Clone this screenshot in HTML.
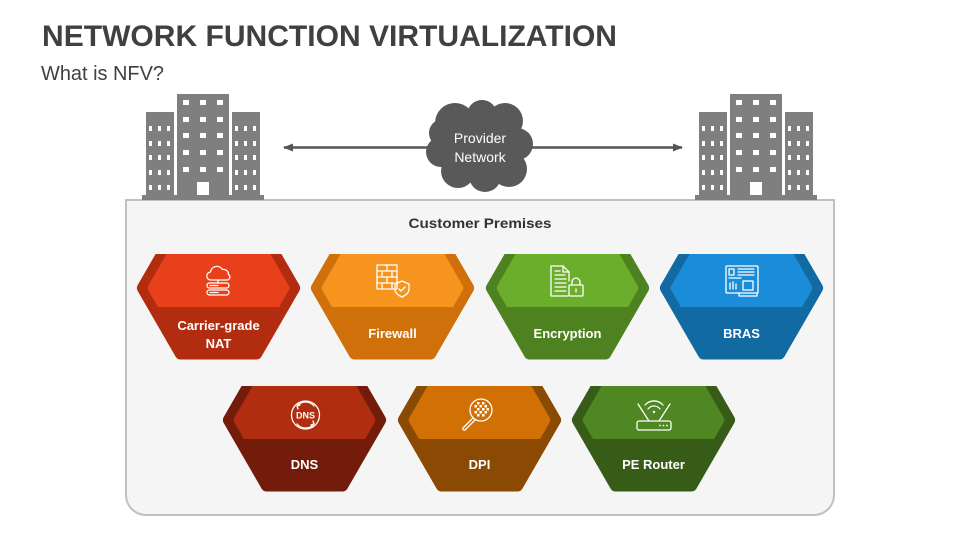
<!DOCTYPE html>
<html><head><meta charset="utf-8"><style>
html,body{margin:0;padding:0;background:#fff;}
svg{display:block;}
text{font-family:"Liberation Sans",Arial,sans-serif;}
</style></head><body>
<svg width="960" height="540" viewBox="0 0 960 540" xmlns="http://www.w3.org/2000/svg">
<defs>
<clipPath id="co" clipPathUnits="userSpaceOnUse"><rect x="-10" y="0" width="190" height="120"/></clipPath>
<clipPath id="ci" clipPathUnits="userSpaceOnUse"><rect x="-10" y="0" width="190" height="53"/></clipPath>
<marker id="ah" markerWidth="10" markerHeight="8" refX="9" refY="4" orient="auto" markerUnits="userSpaceOnUse"><path d="M0,0 L10,4 L0,8 Z" fill="#555"/></marker>
</defs>
<rect width="960" height="540" fill="#fff"/>
<text x="42" y="46" font-size="30" font-weight="bold" fill="#404040" textLength="575" lengthAdjust="spacingAndGlyphs">NETWORK FUNCTION VIRTUALIZATION</text>
<text x="41" y="80" font-size="20" fill="#404040" textLength="123" lengthAdjust="spacingAndGlyphs">What is NFV?</text>

<!-- customer premises box -->
<path d="M126 200 H834 V495 a20 20 0 0 1 -20 20 H146 a20 20 0 0 1 -20 -20 Z" fill="#f5f5f5" stroke="#c0c0c0" stroke-width="2"/>
<text x="480" y="228" font-size="14" font-weight="bold" fill="#333" text-anchor="middle" textLength="143" lengthAdjust="spacingAndGlyphs">Customer Premises</text>

<!-- buildings -->
<g id="bld" fill="#7f7f7f">
<rect x="142" y="195" width="122" height="5"/>
<rect x="146" y="112" width="28" height="84"/>
<rect x="177" y="94" width="52" height="102"/>
<rect x="232" y="112" width="28" height="84"/>
<g fill="#fff">
<rect x="183" y="100" width="6" height="5"/><rect x="200" y="100" width="6" height="5"/><rect x="217" y="100" width="6" height="5"/>
<rect x="183" y="117" width="6" height="5"/><rect x="200" y="117" width="6" height="5"/><rect x="217" y="117" width="6" height="5"/>
<rect x="183" y="133" width="6" height="5"/><rect x="200" y="133" width="6" height="5"/><rect x="217" y="133" width="6" height="5"/>
<rect x="183" y="150" width="6" height="5"/><rect x="200" y="150" width="6" height="5"/><rect x="217" y="150" width="6" height="5"/>
<rect x="183" y="167" width="6" height="5"/><rect x="200" y="167" width="6" height="5"/><rect x="217" y="167" width="6" height="5"/>
<rect x="197" y="182" width="12" height="13"/>
<rect x="149" y="126" width="3" height="5"/><rect x="158" y="126" width="3" height="5"/><rect x="167" y="126" width="3" height="5"/>
<rect x="149" y="141" width="3" height="5"/><rect x="158" y="141" width="3" height="5"/><rect x="167" y="141" width="3" height="5"/>
<rect x="149" y="155" width="3" height="5"/><rect x="158" y="155" width="3" height="5"/><rect x="167" y="155" width="3" height="5"/>
<rect x="149" y="170" width="3" height="5"/><rect x="158" y="170" width="3" height="5"/><rect x="167" y="170" width="3" height="5"/>
<rect x="149" y="185" width="3" height="5"/><rect x="158" y="185" width="3" height="5"/><rect x="167" y="185" width="3" height="5"/>
<rect x="235" y="126" width="3" height="5"/><rect x="244" y="126" width="3" height="5"/><rect x="253" y="126" width="3" height="5"/>
<rect x="235" y="141" width="3" height="5"/><rect x="244" y="141" width="3" height="5"/><rect x="253" y="141" width="3" height="5"/>
<rect x="235" y="155" width="3" height="5"/><rect x="244" y="155" width="3" height="5"/><rect x="253" y="155" width="3" height="5"/>
<rect x="235" y="170" width="3" height="5"/><rect x="244" y="170" width="3" height="5"/><rect x="253" y="170" width="3" height="5"/>
<rect x="235" y="185" width="3" height="5"/><rect x="244" y="185" width="3" height="5"/><rect x="253" y="185" width="3" height="5"/>
</g>
</g>
<g transform="translate(553,0)" fill="#7f7f7f">
<rect x="142" y="195" width="122" height="5"/>
<rect x="146" y="112" width="28" height="84"/>
<rect x="177" y="94" width="52" height="102"/>
<rect x="232" y="112" width="28" height="84"/>
<g fill="#fff">
<rect x="183" y="100" width="6" height="5"/><rect x="200" y="100" width="6" height="5"/><rect x="217" y="100" width="6" height="5"/>
<rect x="183" y="117" width="6" height="5"/><rect x="200" y="117" width="6" height="5"/><rect x="217" y="117" width="6" height="5"/>
<rect x="183" y="133" width="6" height="5"/><rect x="200" y="133" width="6" height="5"/><rect x="217" y="133" width="6" height="5"/>
<rect x="183" y="150" width="6" height="5"/><rect x="200" y="150" width="6" height="5"/><rect x="217" y="150" width="6" height="5"/>
<rect x="183" y="167" width="6" height="5"/><rect x="200" y="167" width="6" height="5"/><rect x="217" y="167" width="6" height="5"/>
<rect x="197" y="182" width="12" height="13"/>
<rect x="149" y="126" width="3" height="5"/><rect x="158" y="126" width="3" height="5"/><rect x="167" y="126" width="3" height="5"/>
<rect x="149" y="141" width="3" height="5"/><rect x="158" y="141" width="3" height="5"/><rect x="167" y="141" width="3" height="5"/>
<rect x="149" y="155" width="3" height="5"/><rect x="158" y="155" width="3" height="5"/><rect x="167" y="155" width="3" height="5"/>
<rect x="149" y="170" width="3" height="5"/><rect x="158" y="170" width="3" height="5"/><rect x="167" y="170" width="3" height="5"/>
<rect x="149" y="185" width="3" height="5"/><rect x="158" y="185" width="3" height="5"/><rect x="167" y="185" width="3" height="5"/>
<rect x="235" y="126" width="3" height="5"/><rect x="244" y="126" width="3" height="5"/><rect x="253" y="126" width="3" height="5"/>
<rect x="235" y="141" width="3" height="5"/><rect x="244" y="141" width="3" height="5"/><rect x="253" y="141" width="3" height="5"/>
<rect x="235" y="155" width="3" height="5"/><rect x="244" y="155" width="3" height="5"/><rect x="253" y="155" width="3" height="5"/>
<rect x="235" y="170" width="3" height="5"/><rect x="244" y="170" width="3" height="5"/><rect x="253" y="170" width="3" height="5"/>
<rect x="235" y="185" width="3" height="5"/><rect x="244" y="185" width="3" height="5"/><rect x="253" y="185" width="3" height="5"/>
</g>
</g>

<!-- arrows -->
<line x1="440" y1="147.5" x2="284" y2="147.5" stroke="#555" stroke-width="2.5" marker-end="url(#ah)"/>
<line x1="520" y1="147.5" x2="682" y2="147.5" stroke="#555" stroke-width="2.5" marker-end="url(#ah)"/>

<!-- cloud -->
<g fill="#595959">
<circle cx="480" cy="146" r="38"/>
<circle cx="455" cy="123" r="20"/>
<circle cx="482" cy="115" r="15"/>
<circle cx="505" cy="121" r="18"/>
<circle cx="517" cy="144" r="16"/>
<circle cx="509" cy="169" r="18"/>
<circle cx="485" cy="176" r="16"/>
<circle cx="458" cy="171" r="17"/>
<circle cx="441" cy="152" r="15"/>
<circle cx="443" cy="133" r="14"/>
</g>
<text x="480" y="143" font-size="14" fill="#fff" text-anchor="middle">Provider</text>
<text x="480" y="162" font-size="14" fill="#fff" text-anchor="middle">Network</text>

<!-- hex tiles -->
<g transform="translate(136,254)">
<polygon clip-path="url(#co)" points="6.9,34 44.7,-31.5 120.3,-31.5 158.1,34 120.3,99.5 44.7,99.5" fill="#b22d10" stroke="#b22d10" stroke-width="12" stroke-linejoin="round"/>
<polygon clip-path="url(#ci)" points="16.75,34 49.6,-23 115.4,-23 148.25,34 115.4,91 49.6,91" fill="#e8401a" stroke="#e8401a" stroke-width="10" stroke-linejoin="round"/>
<text x="82.5" y="76" font-size="13" font-weight="bold" fill="#fff" text-anchor="middle">Carrier-grade</text>
<text x="82.5" y="94" font-size="13" font-weight="bold" fill="#fff" text-anchor="middle">NAT</text>
</g>
<g transform="translate(310,254)">
<polygon clip-path="url(#co)" points="6.9,34 44.7,-31.5 120.3,-31.5 158.1,34 120.3,99.5 44.7,99.5" fill="#d0700a" stroke="#d0700a" stroke-width="12" stroke-linejoin="round"/>
<polygon clip-path="url(#ci)" points="16.75,34 49.6,-23 115.4,-23 148.25,34 115.4,91 49.6,91" fill="#f7941e" stroke="#f7941e" stroke-width="10" stroke-linejoin="round"/>
<text x="82.5" y="84" font-size="13" font-weight="bold" fill="#fff" text-anchor="middle">Firewall</text>
</g>
<g transform="translate(485,254)">
<polygon clip-path="url(#co)" points="6.9,34 44.7,-31.5 120.3,-31.5 158.1,34 120.3,99.5 44.7,99.5" fill="#4e8120" stroke="#4e8120" stroke-width="12" stroke-linejoin="round"/>
<polygon clip-path="url(#ci)" points="16.75,34 49.6,-23 115.4,-23 148.25,34 115.4,91 49.6,91" fill="#6bae2c" stroke="#6bae2c" stroke-width="10" stroke-linejoin="round"/>
<text x="82.5" y="84" font-size="13" font-weight="bold" fill="#fff" text-anchor="middle">Encryption</text>
</g>
<g transform="translate(659,254)">
<polygon clip-path="url(#co)" points="6.9,34 44.7,-31.5 120.3,-31.5 158.1,34 120.3,99.5 44.7,99.5" fill="#126aa3" stroke="#126aa3" stroke-width="12" stroke-linejoin="round"/>
<polygon clip-path="url(#ci)" points="16.75,34 49.6,-23 115.4,-23 148.25,34 115.4,91 49.6,91" fill="#1b8dd8" stroke="#1b8dd8" stroke-width="10" stroke-linejoin="round"/>
<text x="82.5" y="84" font-size="13" font-weight="bold" fill="#fff" text-anchor="middle">BRAS</text>
</g>
<g transform="translate(222,386)">
<polygon clip-path="url(#co)" points="6.9,34 44.7,-31.5 120.3,-31.5 158.1,34 120.3,99.5 44.7,99.5" fill="#741c0b" stroke="#741c0b" stroke-width="12" stroke-linejoin="round"/>
<polygon clip-path="url(#ci)" points="16.75,34 49.6,-23 115.4,-23 148.25,34 115.4,91 49.6,91" fill="#b02d10" stroke="#b02d10" stroke-width="10" stroke-linejoin="round"/>
<text x="82.5" y="83" font-size="13" font-weight="bold" fill="#fff" text-anchor="middle">DNS</text>
</g>
<g transform="translate(397,386)">
<polygon clip-path="url(#co)" points="6.9,34 44.7,-31.5 120.3,-31.5 158.1,34 120.3,99.5 44.7,99.5" fill="#8b4a04" stroke="#8b4a04" stroke-width="12" stroke-linejoin="round"/>
<polygon clip-path="url(#ci)" points="16.75,34 49.6,-23 115.4,-23 148.25,34 115.4,91 49.6,91" fill="#d07005" stroke="#d07005" stroke-width="10" stroke-linejoin="round"/>
<text x="82.5" y="83" font-size="13" font-weight="bold" fill="#fff" text-anchor="middle">DPI</text>
</g>
<g transform="translate(571,386)">
<polygon clip-path="url(#co)" points="6.9,34 44.7,-31.5 120.3,-31.5 158.1,34 120.3,99.5 44.7,99.5" fill="#365c18" stroke="#365c18" stroke-width="12" stroke-linejoin="round"/>
<polygon clip-path="url(#ci)" points="16.75,34 49.6,-23 115.4,-23 148.25,34 115.4,91 49.6,91" fill="#4f8722" stroke="#4f8722" stroke-width="10" stroke-linejoin="round"/>
<text x="82.5" y="83" font-size="13" font-weight="bold" fill="#fff" text-anchor="middle">PE Router</text>
</g>

<!-- icons -->
<g fill="none" stroke="#fff" stroke-width="1.3" stroke-linecap="round" stroke-linejoin="round">
<!-- NAT -->
<path d="M211 280 a4 4 0 0 1 -0.5 -8 a6.5 6.5 0 0 1 12 -2.5 a5 5 0 0 1 6 5 a3 3 0 0 1 -1.5 5.5 Z"/>
<line x1="218" y1="280" x2="218" y2="283"/>
<rect x="207" y="283" width="22" height="5" rx="2.5"/>
<rect x="207" y="290" width="22" height="5" rx="2.5"/>
<line x1="210" y1="285.5" x2="218" y2="285.5"/><line x1="210" y1="292.5" x2="218" y2="292.5"/>
<!-- Firewall -->
<rect x="377" y="265" width="20" height="24"/>
<path d="M377 271 H397 M377 277 H397 M377 283 H394 M387 265 V271 M382 271 V277 M392 271 V277 M387 277 V283 M382 283 V289 M392 283 V289"/>
<path d="M402 281 l7 3 v5 c0 4 -3 6 -7 8 c-4 -2 -7 -4 -7 -8 v-5 Z"/>
<path d="M399 289 l2 2 l4 -4"/>
<!-- Encryption -->
<path d="M569 281 V272 l-6 -6 H551 V296 H568"/>
<path d="M563 266 V272 H569"/>
<path d="M555 275 H565 M555 279 H566 M555 283 H566 M555 287 H566 M555 291 H566 M555 271 H560"/>
<rect x="569" y="285" width="14" height="11" rx="1"/>
<path d="M572 285 v-3 a4 4 0 0 1 8 0 v3"/>
<line x1="576" y1="289" x2="576" y2="292"/>
<!-- BRAS -->
<rect x="726" y="266" width="32" height="27" rx="1"/>
<path d="M738 269 H754 M738 272 H754 M738 275 H754 M729 278 H741"/>
<rect x="729" y="269" width="5" height="6"/>
<rect x="743" y="281" width="10" height="9"/>
<path d="M730 283 v6 M733 282 v7 M736 284 v5"/>
<path d="M739 293 v3 H757 v-3"/>
<!-- DNS -->
<circle cx="305.5" cy="415" r="14"/>
<path d="M297 406 a11 11 0 0 1 17 0 M297 406 l3 -1 M297 406 l1 3"/>
<path d="M314 424 a11 11 0 0 1 -17 0 M314 424 l-3 1 M314 424 l-1 -3"/>
<!-- DPI -->
<circle cx="481" cy="410" r="11"/>
<path d="M473 418 l-10 10 a1.5 1.5 0 0 0 2 2 l10 -10"/>
<!-- PE Router -->
<path d="M645 405 a12 12 0 0 1 18 0 M648 409 a7.5 7.5 0 0 1 12 0"/>
<path d="M638 404 L649 421 M670 404 L659 421"/>
<rect x="637" y="421" width="34" height="9" rx="2"/>
</g>
<g fill="#fff">
<text x="305.5" y="418.5" font-size="9" text-anchor="middle" font-weight="bold">DNS</text>
<circle cx="654" cy="412" r="1.2"/>
<circle cx="660" cy="425.5" r="0.9"/><circle cx="663.5" cy="425.5" r="0.9"/><circle cx="667" cy="425.5" r="0.9"/>
<rect x="477" y="402" width="2.5" height="2.5"/><rect x="482" y="402" width="2.5" height="2.5"/>
<rect x="474.5" y="405" width="2.5" height="2.5"/><rect x="479.5" y="405" width="2.5" height="2.5"/><rect x="484.5" y="405" width="2.5" height="2.5"/>
<rect x="477" y="408" width="2.5" height="2.5"/><rect x="482" y="408" width="2.5" height="2.5"/><rect x="486.5" y="408" width="2.5" height="2.5"/>
<rect x="474.5" y="411" width="2.5" height="2.5"/><rect x="479.5" y="411" width="2.5" height="2.5"/><rect x="484.5" y="411" width="2.5" height="2.5"/>
<rect x="477" y="414" width="2.5" height="2.5"/><rect x="482" y="414" width="2.5" height="2.5"/>
</g>
</svg>
</body></html>
